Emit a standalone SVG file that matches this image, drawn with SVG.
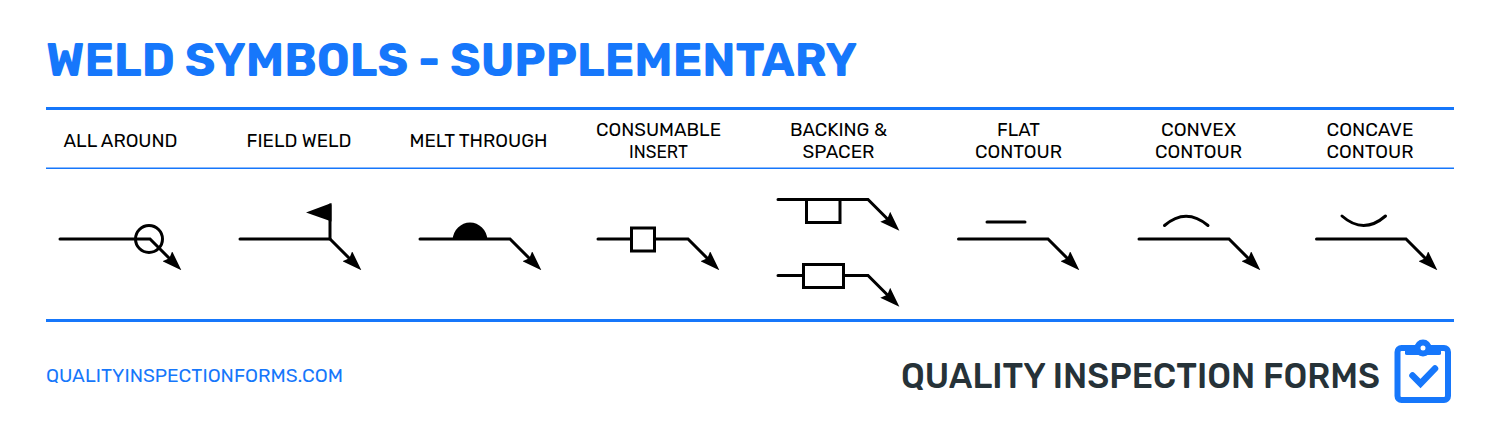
<svg xmlns="http://www.w3.org/2000/svg" width="1500" height="431" viewBox="0 0 1500 431">
<style>
text{font-family:Rubik,Roboto,"Liberation Sans",sans-serif}
.h{font-size:18.5px;fill:#000;text-anchor:middle}
.s{fill:none;stroke:#000;stroke-width:3;stroke-linecap:round;stroke-linejoin:miter}
.c{fill:none;stroke:#000;stroke-width:3;stroke-linejoin:miter}
.b{fill:#000;stroke:none}
.r{fill:#1677fb}
</style>
<defs>
<marker id="a" markerUnits="userSpaceOnUse" markerWidth="20" markerHeight="14" refX="11" refY="7" orient="auto" viewBox="0 0 20 14"><path d="M0 0L20 7L0 14L3 7Z" fill="#000"/></marker>
</defs>
<rect width="1500" height="431" fill="#fff"/>
<text x="46" y="76" font-size="46" font-weight="700" fill="#1677fb" textLength="811" lengthAdjust="spacingAndGlyphs">WELD SYMBOLS - SUPPLEMENTARY</text>
<rect class="r" x="46" y="107" width="1408" height="3"/>
<rect class="r" x="46" y="167.500" width="1408" height="1.500"/>
<rect class="r" x="46" y="319" width="1408" height="3"/>
<g id="headers">
<text class="h" x="120.500" y="147" textLength="114" lengthAdjust="spacingAndGlyphs">ALL AROUND</text>
<text class="h" x="299" y="147" textLength="105" lengthAdjust="spacingAndGlyphs">FIELD WELD</text>
<text class="h" x="478.500" y="147" textLength="138" lengthAdjust="spacingAndGlyphs">MELT THROUGH</text>
<text class="h" x="658.500" y="136" textLength="125" lengthAdjust="spacingAndGlyphs">CONSUMABLE</text>
<text class="h" x="658.500" y="158" textLength="59" lengthAdjust="spacingAndGlyphs">INSERT</text>
<text class="h" x="838.500" y="136" textLength="97" lengthAdjust="spacingAndGlyphs">BACKING &amp;</text>
<text class="h" x="838.500" y="158" textLength="72" lengthAdjust="spacingAndGlyphs">SPACER</text>
<text class="h" x="1018.500" y="136" textLength="43" lengthAdjust="spacingAndGlyphs">FLAT</text>
<text class="h" x="1018.500" y="158" textLength="87" lengthAdjust="spacingAndGlyphs">CONTOUR</text>
<text class="h" x="1198.500" y="136" textLength="75" lengthAdjust="spacingAndGlyphs">CONVEX</text>
<text class="h" x="1198.500" y="158" textLength="87" lengthAdjust="spacingAndGlyphs">CONTOUR</text>
<text class="h" x="1370" y="136" textLength="87" lengthAdjust="spacingAndGlyphs">CONCAVE</text>
<text class="h" x="1370" y="158" textLength="87" lengthAdjust="spacingAndGlyphs">CONTOUR</text>
</g>
<g id="connectors">
<path class="s" marker-end="url(#a)" d="M60 239H150L175 264"/>
<path class="s" marker-end="url(#a)" d="M240 239H330L355 264"/>
<path class="s" marker-end="url(#a)" d="M420 239H510L535 264"/>
<path class="s" marker-end="url(#a)" d="M598 239H688L713 264"/>
<path class="s" marker-end="url(#a)" d="M778 199.500H868L893 224.500"/>
<path class="s" marker-end="url(#a)" d="M778 275.500H868L893 300.500"/>
<path class="s" marker-end="url(#a)" d="M958.500 239H1048L1073 264"/>
<path class="s" marker-end="url(#a)" d="M1139 239H1229L1254 264"/>
<path class="s" marker-end="url(#a)" d="M1316.500 239H1406L1431 264"/>
</g>
<g id="all-around"><circle class="s" cx="149" cy="239" r="13.500"/></g>
<g id="field-weld"><path class="s" d="M330 239V205"/><path class="b" d="M306 212.500L331.500 203V221.500Z"/></g>
<g id="melt-through"><path class="b" d="M452.500 240C453 230 461 222.500 470 222.500S487 230 487.500 240Z"/></g>
<g id="consumable-insert"><rect class="c" x="631.500" y="228" width="23" height="23" style="fill:#fff"/></g>
<g id="backing"><path class="c" d="M806.500 199.500V222.500H840V199.500"/></g>
<g id="spacer"><rect class="c" x="803.500" y="264.500" width="40" height="23" style="fill:#fff"/></g>
<g id="flat"><path class="s" d="M987 222H1025"/></g>
<g id="convex"><path class="s" d="M1164.500 225.500Q1186 207 1208 225.500"/></g>
<g id="concave"><path class="s" d="M1342 216Q1363.500 235 1385.500 216"/></g>
<text x="46" y="382" font-size="18" fill="#1677fb" textLength="297" lengthAdjust="spacingAndGlyphs">QUALITYINSPECTIONFORMS.COM</text>
<text x="901" y="388" font-size="35" font-weight="500" fill="#263238" textLength="479" lengthAdjust="spacingAndGlyphs">QUALITY INSPECTION FORMS</text>
<g id="logo">
<rect x="1397.500" y="348" width="50.500" height="52" rx="4" fill="none" stroke="#1677fb" stroke-width="6"/>
<path class="r" d="M1405 348H1441V353.500Q1441 355 1439 355H1407Q1405 355 1405 353.500Z"/>
<circle cx="1423" cy="348" r="5.500" fill="#fff" stroke="#1677fb" stroke-width="6"/>
<path d="M1412.500 375.500L1420.500 383.500L1435 368.500" fill="none" stroke="#1677fb" stroke-width="6.500" stroke-linecap="round"/>
</g>
</svg>
